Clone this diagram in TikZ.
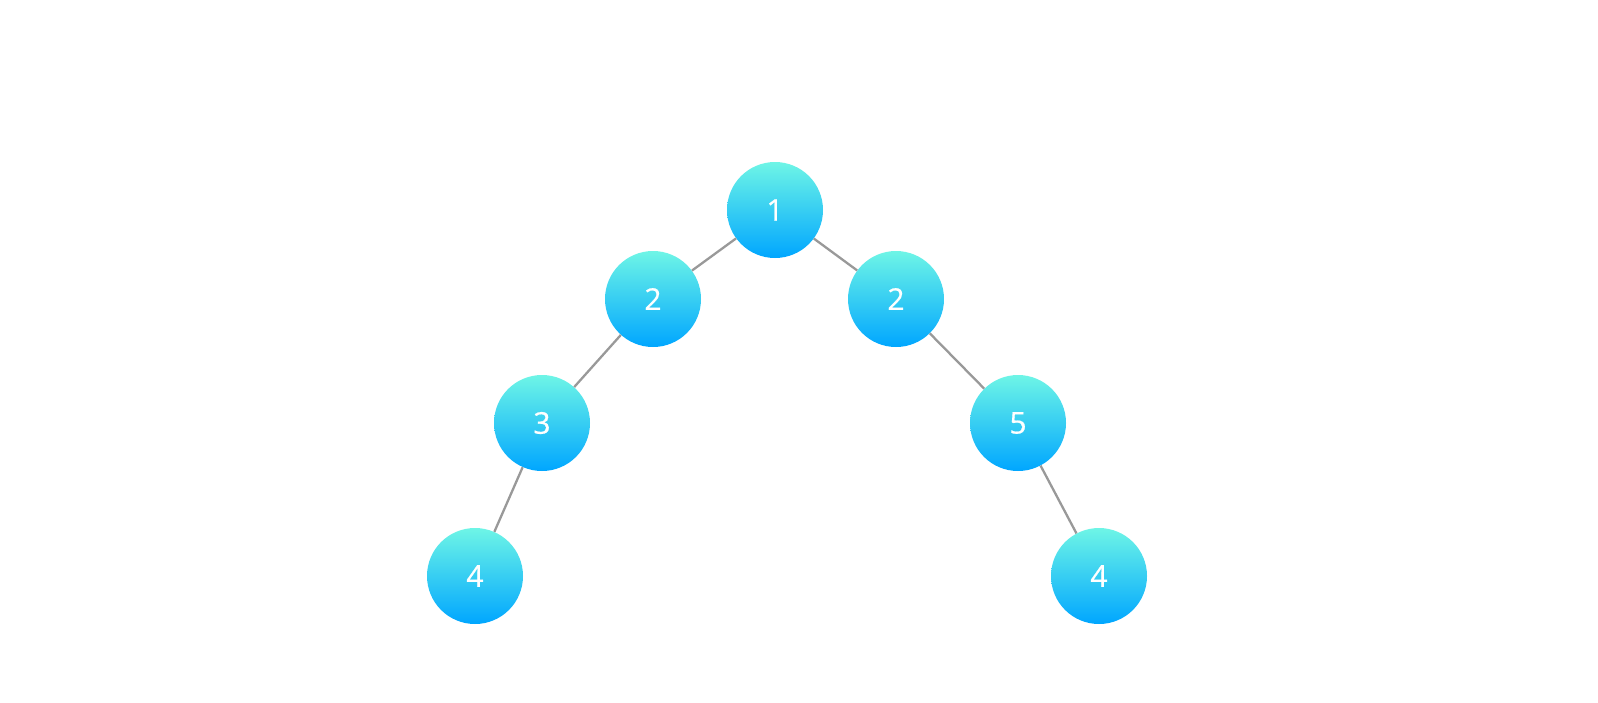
\documentclass[tikz,border=0pt]{standalone}
\usepackage{fontspec}
\setmainfont{Open Sans}
\newfontfamily\digfont{Open Sans}[FakeBold=0.6]
\definecolor{topc}{HTML}{6EF5E6}
\definecolor{botc}{HTML}{00A6FF}
\definecolor{edgec}{HTML}{999999}
\begin{document}
\begin{tikzpicture}[x=1pt,y=-1pt,
  tn/.style={circle,minimum size=96pt,inner sep=0pt,top color=topc,bottom color=botc,text=white,font=\digfont\fontsize{30}{30}\selectfont},
  ed/.style={draw=edgec,line width=2.3pt}]
\useasboundingbox (0,0) rectangle (1598,702);
\node[tn] (a) at (775,210) {1};
\node[tn] (b) at (653,299) {2};
\node[tn] (c) at (896,299) {2};
\node[tn] (d) at (542,423) {3};
\node[tn] (e) at (1018,423) {5};
\node[tn] (f) at (475,576) {4};
\node[tn] (g) at (1099,576) {4};
\draw[ed] (a) -- (b);
\draw[ed] (a) -- (c);
\draw[ed] (b) -- (d);
\draw[ed] (c) -- (e);
\draw[ed] (d) -- (f);
\draw[ed] (e) -- (g);
\end{tikzpicture}
\end{document}
